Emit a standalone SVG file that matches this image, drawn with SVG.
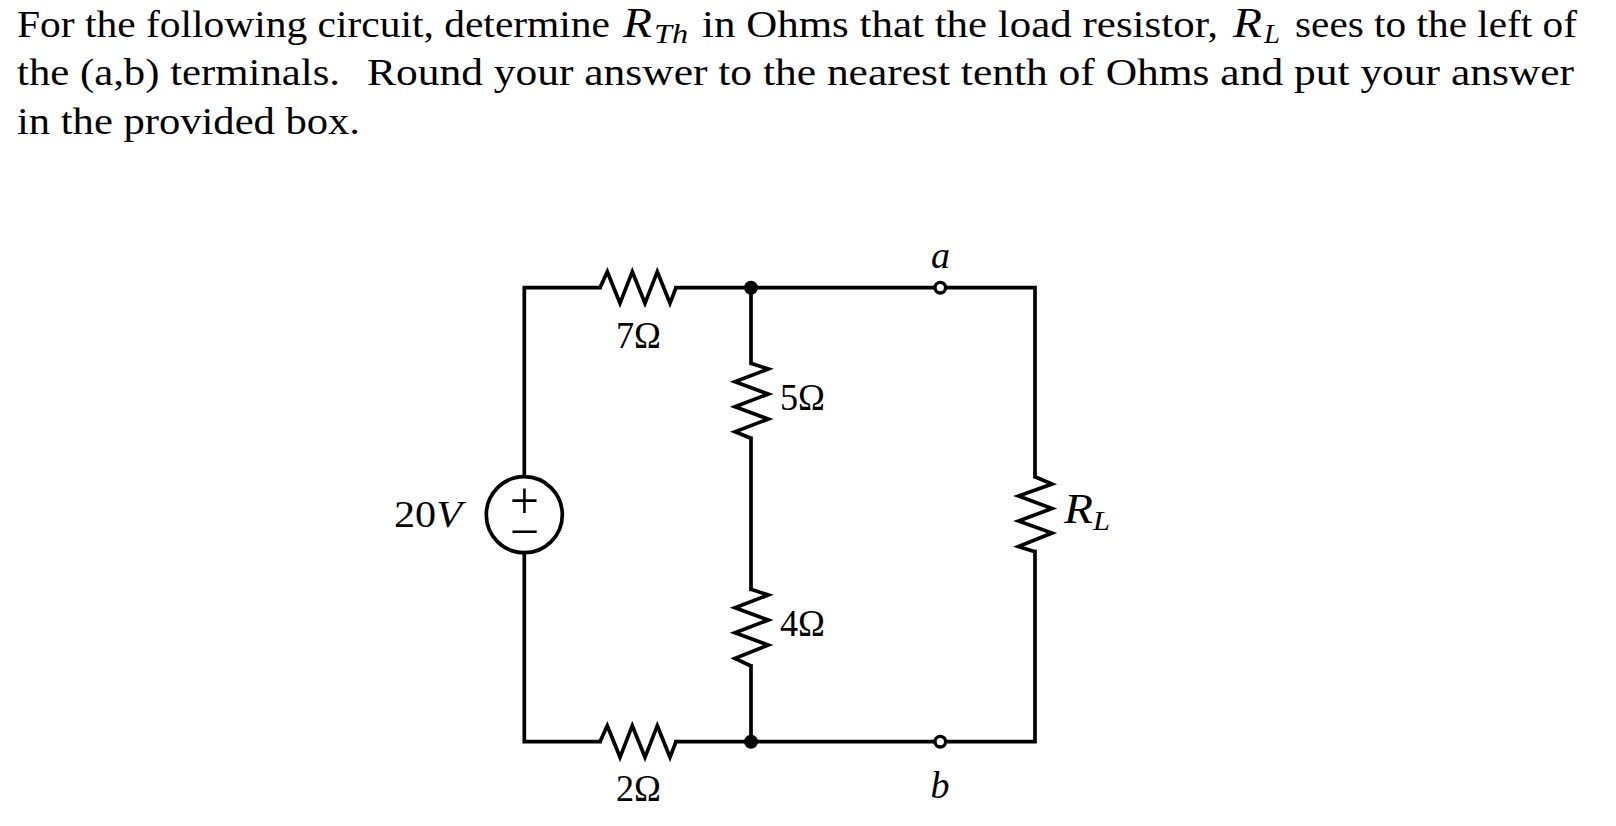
<svg xmlns="http://www.w3.org/2000/svg" width="1616" height="826" viewBox="0 0 1616 826">
<style>
text{font-family:"Liberation Serif","Times New Roman",serif;fill:#000}
.p{font-size:38.5px}
.l{font-size:38px}
.i{font-style:italic}
.m{font-size:42px;font-style:italic}
.s{font-size:27px;font-style:italic}
.w{fill:none;stroke:#000;stroke-width:3.7;stroke-linejoin:miter;stroke-linecap:square}
.r{fill:none;stroke:#000;stroke-width:3.7;stroke-linejoin:miter;stroke-linecap:butt}
.d{fill:#000}
.t{fill:#fff;stroke:#000;stroke-width:3.4}
.v{fill:#fff;stroke:#000;stroke-width:3.7}
</style>
<rect width="1616" height="826" fill="#fff"/>
<g id="problem-text">
<text class="p" x="17" y="37" textLength="593" lengthAdjust="spacingAndGlyphs">For the following circuit, determine</text>
<text class="m" x="623" y="37" textLength="29" lengthAdjust="spacingAndGlyphs">R</text>
<text class="s" x="654" y="43" textLength="34" lengthAdjust="spacingAndGlyphs">Th</text>
<text class="p" x="702" y="37" textLength="516" lengthAdjust="spacingAndGlyphs">in Ohms that the load resistor,</text>
<text class="m" x="1233" y="37" textLength="29" lengthAdjust="spacingAndGlyphs">R</text>
<text class="s" x="1264" y="43" textLength="16" lengthAdjust="spacingAndGlyphs">L</text>
<text class="p" x="1295" y="37" textLength="282" lengthAdjust="spacingAndGlyphs">sees to the left of</text>
<text class="p" x="17" y="85" textLength="323" lengthAdjust="spacingAndGlyphs">the (a,b) terminals.</text>
<text class="p" x="367" y="85" textLength="1207" lengthAdjust="spacingAndGlyphs">Round your answer to the nearest tenth of Ohms and put your answer</text>
<text class="p" x="17" y="133.5" textLength="343" lengthAdjust="spacingAndGlyphs">in the provided box.</text>
</g>
<g id="connectors">
<path class="w" d="M600 287.7H524.3V475"/>
<path class="w" d="M524.3 554.3V741.7H600"/>
<path class="w" d="M676 287.7H1035V476.7"/>
<path class="w" d="M676 741.7H1035V551.7"/>
<path class="w" d="M751 287.7V363.3"/>
<path class="w" d="M751 438.3V589.3"/>
<path class="w" d="M751 666V741.7"/>
</g>
<g id="R7">
<polyline class="r" points="600,287.7 607.3,271.7 620,303.3 632.3,271.7 645,303.3 657.3,271.7 670,303.3 676,287.7"/>
<text class="l" x="616" y="348.3" textLength="45" lengthAdjust="spacingAndGlyphs">7Ω</text>
</g>
<g id="R2">
<polyline class="r" points="600,741.7 607.3,725.7 620,757.3 632.3,725.7 645,757.3 657.3,725.7 670,757.3 676,741.7"/>
<text class="l" x="616" y="801" textLength="45" lengthAdjust="spacingAndGlyphs">2Ω</text>
</g>
<g id="R5">
<polyline class="r" points="751,363.3 768.3,369 735,381.7 768.3,394 735,406.7 768.3,419 735,431.7 751,438.3"/>
<text class="l" x="780" y="410" textLength="45" lengthAdjust="spacingAndGlyphs">5Ω</text>
</g>
<g id="R4">
<polyline class="r" points="751,589.3 768.3,595 735,607.7 768.3,620 735,632.7 768.3,645 735,658.3 751,666"/>
<text class="l" x="780" y="636" textLength="45" lengthAdjust="spacingAndGlyphs">4Ω</text>
</g>
<g id="RL">
<polyline class="r" points="1035,476.7 1052,484 1018.5,496 1052,508.5 1018.5,521 1052,533 1018.5,546.5 1035,551.7"/>
<text class="m" x="1064" y="523.3" textLength="29" lengthAdjust="spacingAndGlyphs">R</text>
<text class="s" x="1093" y="530" textLength="17" lengthAdjust="spacingAndGlyphs">L</text>
</g>
<g id="source">
<circle class="v" cx="524.3" cy="514.7" r="38"/>
<text font-size="52" text-anchor="middle"><tspan x="524.3" y="518">+</tspan><tspan x="524.3" y="549">−</tspan></text>
<text class="l" x="394" y="526.7" textLength="68" lengthAdjust="spacingAndGlyphs">20<tspan class="i">V</tspan></text>
</g>
<g id="node-top"><circle class="d" cx="751" cy="287.7" r="7"/></g>
<g id="node-bottom"><circle class="d" cx="751" cy="741.7" r="7"/></g>
<g id="terminal-a">
<circle class="t" cx="940.3" cy="287.7" r="5.3"/>
<text class="l i" x="940.5" y="268" text-anchor="middle">a</text>
</g>
<g id="terminal-b">
<circle class="t" cx="940.3" cy="741.7" r="5.3"/>
<text class="l i" x="940" y="797.7" text-anchor="middle">b</text>
</g>
</svg>
